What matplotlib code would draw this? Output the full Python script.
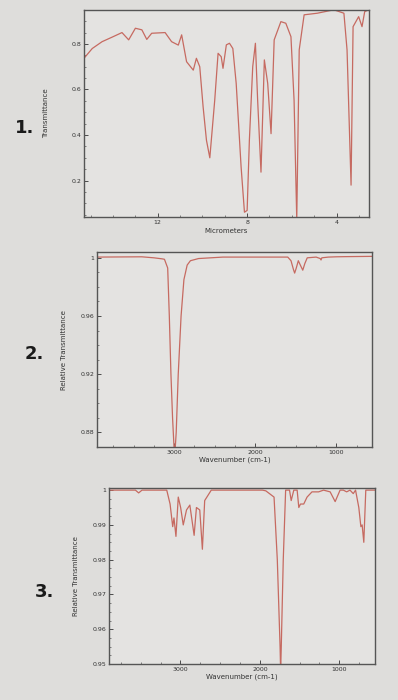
import matplotlib
matplotlib.use("Agg")
import matplotlib.pyplot as plt
from matplotlib.ticker import AutoMinorLocator

# ---- Spectrum 1 (micrometers vs transmittance) ----
um1 = [15.3, 14.93, 14.49, 14.04, 13.6, 13.3, 13.0, 12.71, 12.49, 12.27, 11.67, 11.38,
       11.08, 10.93, 10.71, 10.41, 10.27, 10.12, 9.97, 9.82, 9.67, 9.45, 9.30, 9.16,
       9.08, 8.93, 8.79, 8.64, 8.49, 8.27, 8.12, 8.0, 7.9, 7.75, 7.63, 7.53, 7.38,
       7.23, 7.08, 6.93, 6.79, 6.49, 6.27, 6.04, 5.9, 5.78, 5.67, 5.45, 4.86, 4.12,
       3.67, 3.53, 3.35, 3.26, 3.01, 2.86, 2.74, 2.56]
t1 = [0.737, 0.78, 0.81, 0.83, 0.85, 0.818, 0.869, 0.862, 0.82, 0.847, 0.85, 0.81,
      0.795, 0.84, 0.722, 0.685, 0.737, 0.70, 0.524, 0.377, 0.30, 0.553, 0.759, 0.744,
      0.693, 0.796, 0.803, 0.78, 0.627, 0.26, 0.061, 0.069, 0.377, 0.70, 0.803, 0.553,
      0.237, 0.73, 0.627, 0.406, 0.818, 0.898, 0.891, 0.832, 0.553, 0.03, 0.774, 0.928,
      0.935, 0.95, 0.935, 0.774, 0.18, 0.876, 0.92, 0.876, 0.942, 0.95]
xticks1 = [12, 8, 4]
yticks1 = [0.2, 0.4, 0.6, 0.8]

# ---- Spectrum 2 (wavenumber vs relative transmittance) ----
wn2 = [3950, 3400, 3250, 3150, 3120, 3080, 3060, 3040, 3020, 2995, 2975, 2950, 2915,
       2880, 2840, 2800, 2700, 2400, 1600, 1560, 1530, 1515, 1495, 1470, 1445, 1415,
       1390, 1360, 1250, 1200, 1190, 1180, 1100, 1000, 900, 560]
t2 = [1.0005, 1.0007, 1.0000, 0.9993, 0.999, 0.993, 0.96, 0.92, 0.89, 0.862, 0.88,
      0.92, 0.96, 0.985, 0.995, 0.998, 0.9995, 1.0005, 1.0005, 0.998, 0.992, 0.9895,
      0.993, 0.998, 0.995, 0.9915, 0.996, 1.0, 1.0005, 0.9995, 0.9985, 1.0, 1.0005,
      1.0007, 1.0008, 1.001]
xticks2 = [3000, 2000, 1000]
yticks2 = [0.88, 0.92, 0.96, 1.0]
yticklabels2 = ["0.88", "0.92", "0.96", "1"]

# ---- Spectrum 3 ----
wn3 = [3900, 3568, 3527, 3485, 3173, 3131, 3098, 3082, 3057, 3028, 2998, 2965, 2924,
       2882, 2828, 2799, 2757, 2724, 2695, 2612, 2008, 1967, 1925, 1821, 1780, 1745,
       1738, 1730, 1705, 1675, 1626, 1605, 1572, 1530, 1509, 1488, 1447, 1405, 1343,
       1260, 1197, 1114, 1051, 989, 948, 906, 864, 823, 794, 753, 727, 711, 690, 665,
       615, 550]
t3 = [1.0, 1.0, 0.9992, 1.0, 1.0, 0.996, 0.9895, 0.992, 0.9867, 0.998, 0.995, 0.990,
      0.9943, 0.9957, 0.987, 0.995, 0.9943, 0.983, 0.997, 1.0, 1.0, 1.0, 0.9998, 0.998,
      0.98, 0.955, 0.948, 0.955, 0.98, 1.0, 1.0, 0.997, 1.0, 1.0, 0.995, 0.996, 0.996,
      0.998, 0.9995, 0.9995, 1.0, 0.9995, 0.9967, 1.0, 1.0, 0.9995, 1.0, 0.999, 1.0,
      0.995, 0.9895, 0.990, 0.985, 1.0, 1.0, 1.0]
xticks3 = [3000, 2000, 1000]
yticks3 = [0.95, 0.96, 0.97, 0.98, 0.99, 1.0]
yticklabels3 = ["0.95", "0.96", "0.97", "0.98", "0.99", "1"]

LINE = "#c66a61"
FRAME = "#555555"
BG = "#dedddb"
AXBG = "#e4e3e1"

fig = plt.figure(figsize=(3.98, 7.0), dpi=100, facecolor=BG)

def style(ax):
    ax.set_facecolor(AXBG)
    for s in ax.spines.values():
        s.set_color(FRAME)
        s.set_linewidth(1.0)
    ax.tick_params(axis="both", which="major", direction="in", length=3, width=0.6,
                   labelsize=4.5, colors="#333333", pad=2)
    ax.tick_params(axis="both", which="minor", direction="in", length=1.5, width=0.5,
                   colors="#555555")
    ax.xaxis.set_minor_locator(AutoMinorLocator(4))
    ax.yaxis.set_minor_locator(AutoMinorLocator(4))

# panel 1
ax1 = fig.add_axes([0.211, 0.690, 0.716, 0.296])
ax1.plot(um1, t1, color=LINE, lw=0.9)
ax1.set_xlim(15.3, 2.55)
ax1.set_ylim(0.04, 0.95)
ax1.set_xticks(xticks1)
ax1.set_xticklabels([str(v) for v in xticks1])
ax1.set_yticks(yticks1)
ax1.set_yticklabels([f"{v:.1f}" for v in yticks1])
style(ax1)
ax1.set_xlabel("Micrometers", fontsize=5, labelpad=2, color="#333333")
ax1.set_ylabel("Transmittance", fontsize=5, labelpad=16, color="#333333")

# panel 2
ax2 = fig.add_axes([0.244, 0.361, 0.691, 0.279])
ax2.plot(wn2, t2, color=LINE, lw=0.9)
ax2.set_xlim(3950, 560)
ax2.set_ylim(0.8697, 1.004)
ax2.set_xticks(xticks2)
ax2.set_xticklabels([str(v) for v in xticks2])
ax2.set_yticks(yticks2)
ax2.set_yticklabels(yticklabels2)
style(ax2)
ax2.set_xlabel("Wavenumber (cm-1)", fontsize=5, labelpad=1, color="#333333")
ax2.set_ylabel("Relative Transmittance", fontsize=5, labelpad=10, color="#333333")

# panel 3
ax3 = fig.add_axes([0.274, 0.0514, 0.668, 0.2514])
ax3.plot(wn3, t3, color=LINE, lw=0.9)
ax3.set_xlim(3900, 550)
ax3.set_ylim(0.95, 1.0006)
ax3.set_xticks(xticks3)
ax3.set_xticklabels([str(v) for v in xticks3])
ax3.set_yticks(yticks3)
ax3.set_yticklabels(yticklabels3)
style(ax3)
ax3.set_xlabel("Wavenumber (cm-1)", fontsize=5, labelpad=1, color="#333333")
ax3.set_ylabel("Relative Transmittance", fontsize=5, labelpad=10, color="#333333")

# big panel numbers
fig.text(25 / 398, 1 - 128 / 700, "1.", fontsize=13, fontweight="bold", ha="center",
         va="center", color="#1a1a1a")
fig.text(34 / 398, 1 - 354 / 700, "2.", fontsize=13, fontweight="bold", ha="center",
         va="center", color="#1a1a1a")
fig.text(44 / 398, 1 - 592 / 700, "3.", fontsize=13, fontweight="bold", ha="center",
         va="center", color="#1a1a1a")

fig.savefig("out.png", dpi=100, facecolor=BG)
